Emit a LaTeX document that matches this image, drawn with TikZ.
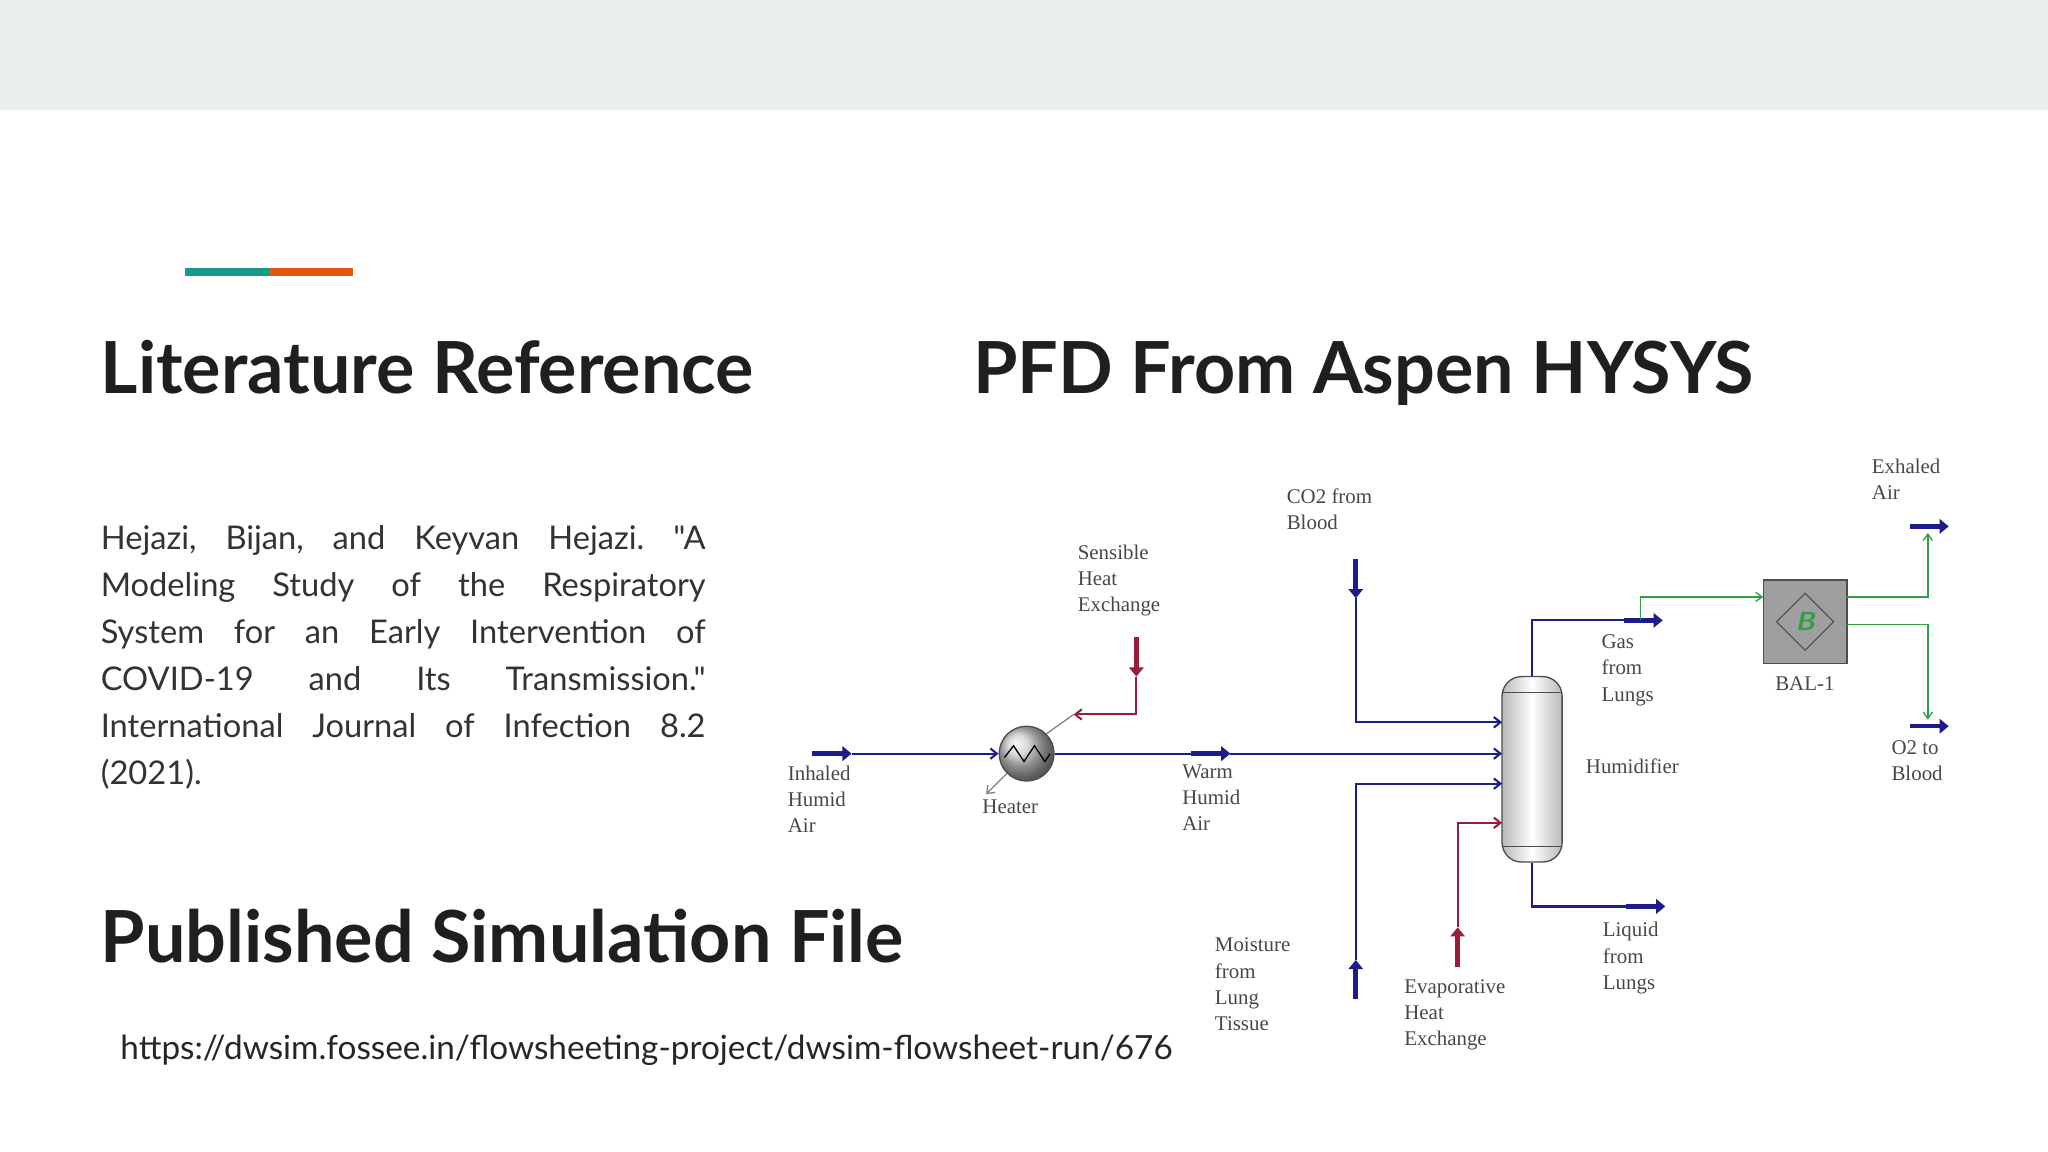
\documentclass[tikz,border=0pt]{standalone}
\usepackage{fontspec}
\setmainfont{Lato}[Ligatures=TeXOff]
\newfontfamily\pfdfont{Liberation Serif}
\usetikzlibrary{arrows.meta,shapes.geometric}
\definecolor{navy}{HTML}{1C1C8A}
\definecolor{wine}{HTML}{9B1B3A}
\definecolor{pgreen}{HTML}{2EA043}
\definecolor{band}{HTML}{E9EEEC}
\definecolor{teal}{HTML}{17998A}
\definecolor{orng}{HTML}{E4570F}
\frenchspacing
\begin{document}
\begin{tikzpicture}[x=1pt,y=-1pt,
  head/.style={font=\bfseries\fontsize{55}{60}\selectfont,anchor=base west,inner sep=0pt,text=black!88},
  lbl/.style={font=\pfdfont\fontsize{16}{20}\selectfont,align=left,anchor=north west,inner sep=0pt,text=black!72},
  bl/.style={draw=navy,line width=1.6pt},
  rd/.style={draw=wine,line width=1.6pt},
  gr/.style={draw=pgreen,line width=1pt},
  mk/.style={line width=3.5pt,-{Triangle[length=7pt,width=11pt]}},
  tip/.style={-{Straight Barb[length=5pt,width=8pt]}}]
\useasboundingbox (0,0) rectangle (1568,882);
\fill[band] (0,0) rectangle (1568,84);
\fill[teal] (142,205) rectangle (207,211);
\fill[orng] (207,205) rectangle (270,211);
\node[head] (h1) at (77,301) {Literature Reference};
\node[head] (h2) at (745,301) {PFD From Aspen HYSYS};
\node[head] (h3) at (77,737) {Published Simulation File};
\node[anchor=north west,inner sep=0pt,text width=463pt,align=justify,
  font=\fontsize{25}{36}\selectfont,text=black!80] (ref) at (77,402)
 {\frenchspacing\hyphenpenalty=10000 Hejazi, Bijan, and Keyvan Hejazi. "A\linebreak Modeling Study of the Respiratory\linebreak System for an Early Intervention of\linebreak COVID-19 and Its Transmission."\linebreak International Journal of Infection 8.2\linebreak (2021).};
\node[anchor=base west,inner sep=0pt,font=\fontsize{25.5}{30}\selectfont,text=black!85] (url) at (92,811)
 {https://dwsim.fossee.in/flowsheeting-project/dwsim-flowsheet-run/676};

% heater
\shade[ball color=gray!40] (786,577) circle (21);
\node[circle,minimum size=42pt,draw=black!70,line width=1pt] (heat) at (786,577) {};
\draw[line width=1pt] (769,580) -- (776,571) -- (784,583) -- (792,571) -- (800,583) -- (804,577);
% column
\node[draw=black!70,line width=1pt,rounded corners=15pt,minimum width=46pt,minimum height=142pt,
  shade,left color=gray!55,right color=gray!55,middle color=white] (col) at (1173,589) {};
\draw[line width=1pt,black!70] (1150,530) -- (1196,530) (1150,648) -- (1196,648);

% inhaled
\coordinate (inA) at (622,577);
\coordinate (inB) at (652,577);
\draw[navy,mk] (inA) -- (inB);
\draw[bl,tip] (inB) -- (heat.west);
% warm
\coordinate (wA) at (912,577);
\coordinate (wB) at (942,577);
\coordinate (wC) at (1150,577);
\draw[bl] (heat.east) -- (wA);
\draw[navy,mk] (wA) -- (wB);
\draw[bl,tip] (wB) -- (wC);
% sensible
\coordinate (sA) at (870,488);
\coordinate (sB) at (870,518);
\coordinate (sC) at (822,547);
\draw[wine,mk] (sA) -- (sB);
\draw[rd,tip] (sB) |- (sC);
\draw[gray,line width=1pt] (sC) -- (heat.north east);
\coordinate (hout) at (755,608);
\draw[gray,line width=1pt,-{Straight Barb[length=5pt,width=8pt]}] (heat.south west) -- (hout);
% co2
\coordinate (cA) at (1038,428);
\coordinate (cB) at (1038,458);
\draw[navy,mk] (cA) -- (cB);
\draw[bl,tip] (cB) |- (1150,553);
% moisture
\coordinate (mA) at (1038,765);
\coordinate (mB) at (1038,735);
\draw[navy,mk] (mA) -- (mB);
\draw[bl,tip] (mB) |- (1150,600);
% evaporative
\coordinate (eA) at (1116,740);
\coordinate (eB) at (1116,710);
\draw[wine,mk] (eA) -- (eB);
\draw[rd,tip] (eB) |- (1150,630);
% gas
\coordinate (gA) at (1243,475);
\coordinate (gB) at (1273,475);
\draw[bl] (col.north) |- (gA);
\draw[navy,mk] (gA) -- (gB);
% liquid
\coordinate (lA) at (1245,694);
\coordinate (lB) at (1275,694);
\draw[bl] (col.south) |- (lA);
\draw[navy,mk] (lA) -- (lB);
% BAL
\node[draw=black!70,fill=gray!75,minimum size=64pt,line width=1pt] (bal) at (1382,476) {};
\node[diamond,draw=black!70,line width=0.8pt,minimum size=44pt,inner sep=0pt] (dia) at (bal) {};
\node[font=\sffamily\bfseries\itshape\fontsize{20}{20}\selectfont,text=pgreen] (B) at (bal) {B};
\draw[gr,-{Straight Barb[length=5pt,width=7pt]}] (1256,475) |- (1350,457);
\coordinate (xA) at (1462,403);
\coordinate (xB) at (1492,403);
\coordinate (oA) at (1462,556);
\coordinate (oB) at (1492,556);
\draw[gr,-{Straight Barb[length=5pt,width=7pt]}] (1414,457) -| (1476,408);
\draw[gr,-{Straight Barb[length=5pt,width=7pt]}] (1414,478) -| (1476,551);
\draw[navy,mk] (xA) -- (xB);
\draw[navy,mk] (oA) -- (oB);

% labels
\node[lbl] (t1) at (603,586) {Inhaled\\Humid\\Air};
\node[lbl] (t2) at (752,612) {Heater};
\node[lbl] (t3) at (825,417) {Sensible\\Heat\\Exchange};
\node[lbl] (t4) at (905,585) {Warm\\Humid\\Air};
\node[lbl] (t5) at (985,374) {CO2 from\\Blood};
\node[lbl] (t6) at (930,718) {Moisture\\from\\Lung\\Tissue};
\node[lbl] (t7) at (1075,750) {Evaporative\\Heat\\Exchange};
\node[lbl] (t8) at (1226,486) {Gas\\from\\Lungs};
\node[lbl] (t9) at (1227,706) {Liquid\\from\\Lungs};
\node[lbl] (t10) at (1214,581) {Humidifier};
\node[lbl] (t11) at (1359,518) {BAL-1};
\node[lbl] (t12) at (1433,351) {Exhaled\\Air};
\node[lbl] (t13) at (1448,567) {O2 to\\Blood};
\end{tikzpicture}
\end{document}
